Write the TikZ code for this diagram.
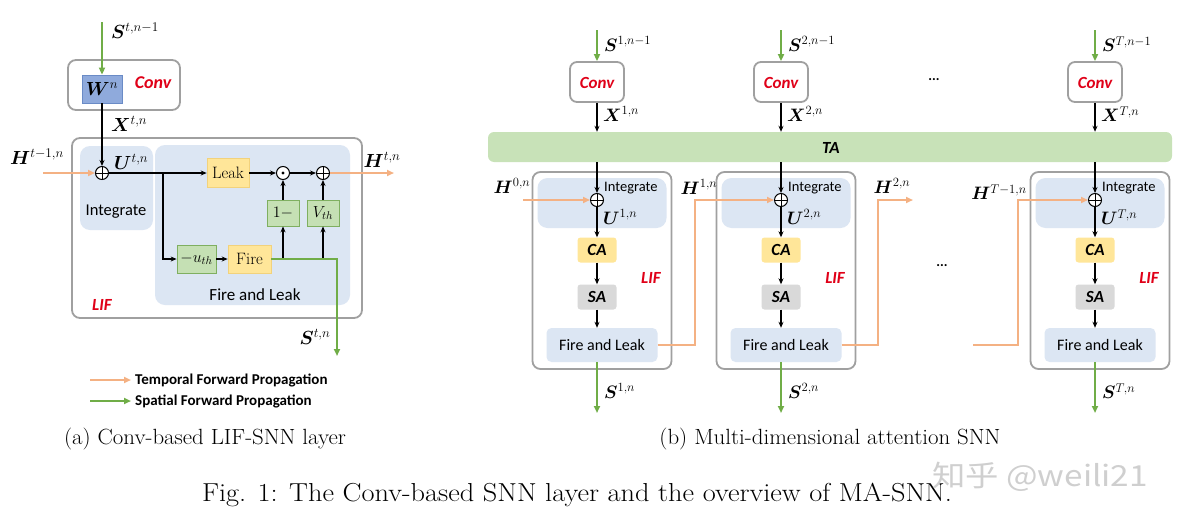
\RequirePackage{fix-cm}
\documentclass[tikz,border=0pt]{standalone}
\usepackage{amsmath}
\usepackage{bm}
\usepackage{graphicx}
\usepackage{fontspec}
\setsansfont{Carlito}
\newfontfamily\cjkfont{Noto Sans CJK SC}
\usetikzlibrary{arrows.meta,calc}
\definecolor{lblue}{HTML}{DCE6F3}
\definecolor{yel}{HTML}{FFE699}
\definecolor{ydraw}{HTML}{F2D27C}
\definecolor{gfill}{HTML}{C5E0B4}
\definecolor{gdraw}{HTML}{7FAF60}
\definecolor{tafill}{HTML}{C8E2B8}
\definecolor{wfill}{HTML}{8FAADC}
\definecolor{wdraw}{HTML}{6A8BC6}
\definecolor{org}{HTML}{F4B183}
\definecolor{grn}{HTML}{70AD47}
\definecolor{frm}{HTML}{A0A0A0}
\definecolor{sagray}{HTML}{D9D9D9}
\definecolor{lifred}{HTML}{E00018}
\begin{document}
\begin{tikzpicture}[x=1pt,y=-1pt,
  ar/.style={-{Stealth[length=6pt,width=5pt]},line width=1.1pt,black},
  oar/.style={-{Triangle[length=7pt,width=6pt]},line width=2pt,org},
  gar/.style={-{Triangle[length=7pt,width=6pt]},line width=2pt,grn},
  frame/.style={draw=frm,line width=1.8pt,rounded corners=8pt,fill=white,inner sep=0pt},
  region/.style={fill=lblue,rounded corners=10pt,inner sep=0pt},
  ybox/.style={fill=yel,draw=ydraw,line width=0.6pt,inner sep=0pt},
  gbox/.style={fill=gfill,draw=gdraw,line width=0.8pt,inner sep=0pt},
  opc/.style={circle,draw,line width=1pt,fill=white,inner sep=0pt,minimum size=13pt},
  labL/.style={font=\fontsize{19}{19}\selectfont,inner sep=0pt},
  labR/.style={font=\fontsize{18}{18}\selectfont,inner sep=0pt},
  convtxt/.style={font=\sffamily\bfseries\itshape\fontsize{18}{18}\selectfont,text=lifred,inner sep=0pt},
  bitxt/.style={font=\sffamily\bfseries\itshape\fontsize{17}{17}\selectfont,inner sep=0pt},
  sftxt/.style={font=\sffamily\fontsize{17}{17}\selectfont,inner sep=0pt},
  captxt/.style={font=\fontsize{22}{22}\selectfont,inner sep=0pt}
]
\useasboundingbox (0,0) rectangle (1185,525);

%================ LEFT PANEL =================
\node[frame,minimum width=112pt,minimum height=50pt] (convL) at (124,85) {};
\node[fill=wfill,draw=wdraw,line width=0.8pt,minimum width=40pt,minimum height=28pt,inner sep=0pt] (wn) at (102,89) {\fontsize{19}{19}\selectfont$\bm{W}^{n}$};
\node[convtxt] (convLt) at (153,83) {Conv};

\node[frame,minimum width=290pt,minimum height=180pt] (lifL) at (217,228) {};
\node[region,minimum width=73pt,minimum height=84pt] (intL) at (116.5,188) {};
\node[region,minimum width=195pt,minimum height=160pt] (flL) at (252.5,225) {};
\node[sftxt,font=\sffamily\fontsize{16.5}{16.5}\selectfont] (intLt) at (116,212) {Integrate};
\node[sftxt] (flLt) at (255,295) {Fire and Leak};
\node[bitxt,text=lifred] (lifLt) at (102,305) {LIF};

\node[opc] (plusA) at (102,173) {};
\draw[line width=1pt] (plusA.north) -- (plusA.south) (plusA.west) -- (plusA.east);
\node[ybox,minimum width=42pt,minimum height=29pt,font=\fontsize{16.5}{16.5}\selectfont] (leak) at (228,173) {Leak};
\node[opc] (odot) at (283,173) {};
\fill (odot) circle (1.6pt);
\node[opc] (plusB) at (323,173) {};
\draw[line width=1pt] (plusB.north) -- (plusB.south) (plusB.west) -- (plusB.east);
\node[gbox,minimum width=32pt,minimum height=26pt,font=\fontsize{16}{16}\selectfont] (om) at (283,213) {$1-$};
\node[gbox,minimum width=32pt,minimum height=26pt,font=\fontsize{16}{16}\selectfont] (vth) at (323,213) {$V_{th}$};
\node[gbox,minimum width=39pt,minimum height=28pt,font=\fontsize{16}{16}\selectfont] (uth) at (196.5,259) {$-u_{th}$};
\node[ybox,minimum width=43pt,minimum height=28pt,font=\fontsize{16.5}{16.5}\selectfont] (fire) at (249.5,259) {Fire};

\coordinate (sL) at (102,22);
\coordinate (hL) at (43,173);
\coordinate (hR) at (394,173);
\coordinate (br) at (163,173);
\coordinate (sR) at (337,356);

\draw[gar] (sL) -- (wn.north);
\node[labL,anchor=west] (sLt) at (111,31) {$\bm{S}^{t,n-1}$};
\draw[ar] (wn.south) -- (plusA.north);
\node[labL,anchor=west] (xLt) at (111,124) {$\bm{X}^{t,n}$};
\draw[oar] (hL) -- (plusA.west);
\node[labL] (hLt) at (37,157) {$\bm{H}^{t-1,n}$};
\node[labL,anchor=west] (uLt) at (114,162) {$\bm{U}^{t,n}$};
\draw[ar] (plusA.east) -- (leak.west);
\draw[ar] (leak.east) -- (odot.west);
\draw[ar] (odot.east) -- (plusB.west);
\draw[oar] (plusB.east) -- (hR);
\node[labL] (hRt) at (382,160) {$\bm{H}^{t,n}$};
\draw[ar] (br) |- (uth.west);
\draw[ar] (uth.east) -- (fire.west);
\draw[ar] (om.south |- fire.east) -- (om.south);
\draw[ar] (vth.south |- fire.east) -- (vth.south);
\draw[ar] (om.north) -- (odot.south);
\draw[ar] (vth.north) -- (plusB.south);
\draw[gar] (fire.east) -| (sR);
\node[labL] (sRt) at (315,337) {$\bm{S}^{t,n}$};

% legend
\coordinate (lo1) at (90,380); \coordinate (lo2) at (131,380);
\coordinate (lg1) at (90,401); \coordinate (lg2) at (131,401);
\draw[oar,line width=1.8pt] (lo1) -- (lo2);
\draw[gar,line width=1.8pt] (lg1) -- (lg2);
\node[anchor=west,font=\sffamily\bfseries\fontsize{15}{15}\selectfont,inner sep=0pt] (legT) at (135,380) {Temporal Forward Propagation};
\node[anchor=west,font=\sffamily\bfseries\fontsize{15}{15}\selectfont,inner sep=0pt] (legS) at (135,401) {Spatial Forward Propagation};

\node[captxt] (capa) at (205,439) {\scalebox{1.04}[1]{(a) Conv-based LIF-SNN layer}};

%================ RIGHT PANEL =================
\node[fill=tafill,rounded corners=6pt,minimum width=684pt,minimum height=30pt,inner sep=0pt] (ta) at (830,147) {};
\node[bitxt] (tat) at (831,148) {TA};

\foreach \cx/\k/\sp in {597/1/1,781/2/2,1095/T/T}{
  \node[frame,minimum width=139pt,minimum height=197pt] (lif\k) at (\cx+5,270.5) {};
  \node[region,minimum width=129pt,minimum height=50pt] (int\k) at (\cx+5,203) {};
  \node[frame,line width=1.8pt,minimum width=54pt,minimum height=40pt,rounded corners=7pt] (conv\k) at (\cx,82) {};
  \node[convtxt,font=\sffamily\bfseries\itshape\fontsize{17}{17}\selectfont] (convt\k) at (\cx,83) {Conv};
  \coordinate (stop\k) at (\cx,30);
  \draw[gar] (stop\k) -- (conv\k.north);
  \node[labR,anchor=west] (st\k) at (\cx+7,44) {$\bm{S}^{\sp,n-1}$};
  \draw[ar] (conv\k.south) -- (conv\k.south |- ta.north);
  \node[labR,anchor=west] (xt\k) at (\cx+6,114) {$\bm{X}^{\sp,n}$};
  \node[opc] (plus\k) at (\cx,200) {};
  \draw[line width=1pt] (plus\k.north) -- (plus\k.south) (plus\k.west) -- (plus\k.east);
  \draw[ar] (ta.south -| plus\k) -- (plus\k.north);
  \node[sftxt,font=\sffamily\fontsize{14.5}{14.5}\selectfont,anchor=west] (it\k) at (\cx+7,188) {Integrate};
  \node[labR,anchor=west] (ut\k) at (\cx+6,217) {$\bm{U}^{\sp,n}$};
  \node[fill=yel,rounded corners=3pt,minimum width=39pt,minimum height=25pt,inner sep=0pt,font=\sffamily\bfseries\itshape\fontsize{17}{17}\selectfont] (ca\k) at (\cx,250) {CA};
  \node[fill=sagray,rounded corners=3pt,minimum width=39pt,minimum height=25pt,inner sep=0pt,font=\sffamily\bfseries\itshape\fontsize{17}{17}\selectfont] (sa\k) at (\cx,297) {SA};
  \node[fill=lblue,rounded corners=5pt,minimum width=111pt,minimum height=34pt,inner sep=0pt,font=\sffamily\fontsize{16}{16}\selectfont] (fl\k) at (\cx+5,345) {Fire and Leak};
  \draw[ar] (plus\k.south) -- (ca\k.north);
  \draw[ar] (ca\k.south) -- (sa\k.north);
  \draw[ar] (sa\k.south) -- (sa\k.south |- fl\k.north);
  \node[bitxt,text=lifred] (lt\k) at (\cx+54,278) {LIF};
  \coordinate (sout\k) at (\cx,413);
  \draw[gar] (sa\k.south |- fl\k.south) -- (sout\k);
  \node[labR,anchor=west] (so\k) at (\cx+7,391) {$\bm{S}^{\sp,n}$};
}

\coordinate (h0) at (523,200);
\draw[oar] (h0) -- (plus1.west);
\node[labR] (h0t) at (512,186) {$\bm{H}^{0,n}$};
\coordinate (b1) at (695,345);
\draw[oar] (fl1.east) -- (b1) |- (plus2.west);
\node[labR] (h1t) at (699,187) {$\bm{H}^{1,n}$};
\coordinate (b2) at (878,345);
\coordinate (h2e) at (913,200);
\draw[oar] (fl2.east) -- (b2) |- (h2e);
\node[labR] (h2t) at (892,186) {$\bm{H}^{2,n}$};
\coordinate (h3s) at (973,345);
\coordinate (b3) at (1018,345);
\draw[oar] (h3s) -- (b3) |- (plusT.west);
\node[labR] (h3t) at (999,192) {$\bm{H}^{T-1,n}$};

\node[font=\sffamily\bfseries\fontsize{14}{14}\selectfont,inner sep=0pt] (dots1) at (934,80) {...};
\node[font=\sffamily\bfseries\fontsize{14}{14}\selectfont,inner sep=0pt] (dots2) at (942,266) {...};

\node[captxt] (capb) at (830,439) {\scalebox{1.04}[1]{(b) Multi-dimensional attention SNN}};

%================ FIGURE CAPTION =================
\node[font=\fontsize{26}{26}\selectfont,inner sep=0pt] (figcap) at (577,495) {\scalebox{1.09}[1]{Fig. 1: The Conv-based SNN layer and the overview of MA-SNN.}};
\node[font=\cjkfont\fontsize{29}{29}\selectfont,text=gray!38,inner sep=0pt] (wm) at (1040,477) {\scalebox{1.15}[1]{知乎 @weili21}};
\end{tikzpicture}
\end{document}
